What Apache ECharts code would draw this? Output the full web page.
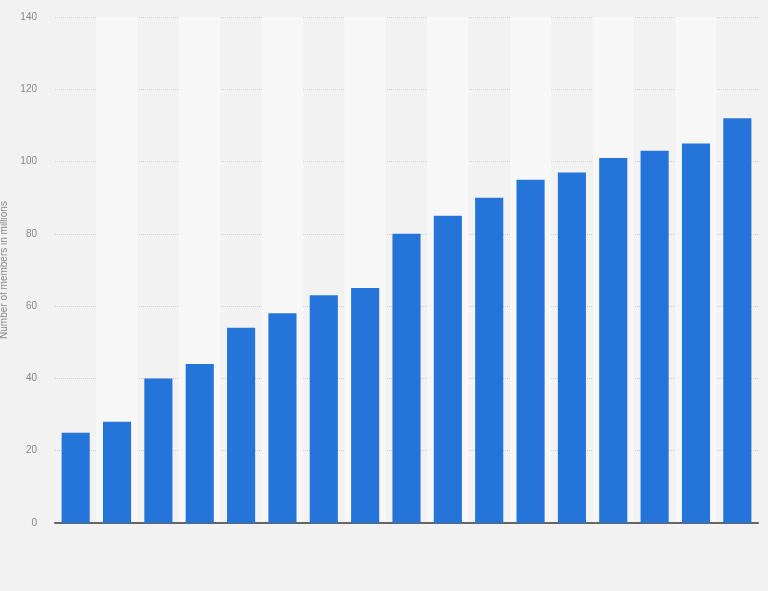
<!DOCTYPE html>
<html>
<head>
<meta charset="utf-8">
<script src="https://cdn.jsdelivr.net/npm/echarts@6/dist/echarts.min.js"></script>
<style>
html,body{margin:0;padding:0;background:#f2f2f2;}
#chart{width:768px;height:591px;}
</style>
</head>
<body>
<div id="chart"></div>
<script>
const categories = ['1','2','3','4','5','6','7','8','9','10','11','12','13','14','15','16','17'];
const members = [25, 28, 40, 44, 54, 58, 63, 65, 80, 85, 90, 95, 97, 101, 103, 105, 112];
const yTicks = [0, 20, 40, 60, 80, 100, 120, 140];

const chart = echarts.init(document.getElementById('chart'));
chart.setOption({
  backgroundColor: '#f2f2f2',
  animation: false,
  grid: { left: 55, right: 10, top: 17, bottom: 68, containLabel: false, outerBoundsMode: 'none' },
  xAxis: {
    type: 'category',
    data: categories,
    axisLine: { show: true, lineStyle: { color: '#666', width: 2 } },
    axisTick: { show: false },
    axisLabel: { show: false },
    splitArea: { show: true, areaStyle: { color: ['rgba(0,0,0,0)', '#f7f7f7'] } }
  },
  yAxis: {
    type: 'value',
    min: yTicks[0],
    max: yTicks[yTicks.length - 1],
    interval: 20,
    name: 'Number of members in millions',
    nameLocation: 'middle',
    nameGap: 43,
    nameTextStyle: { color: '#888', fontSize: 10, fontFamily: 'Arial, Liberation Sans, sans-serif' },
    axisLine: { show: false },
    axisTick: { show: false },
    axisLabel: { color: '#888', fontSize: 10, margin: 18, fontFamily: 'Arial, Liberation Sans, sans-serif' },
    splitLine: { lineStyle: { color: '#d0d0d0', type: 'dotted', width: 1 } }
  },
  series: [{
    type: 'bar',
    data: members,
    barWidth: '68%',
    itemStyle: { color: '#2574d9' }
  }]
});
</script>
</body>
</html>
